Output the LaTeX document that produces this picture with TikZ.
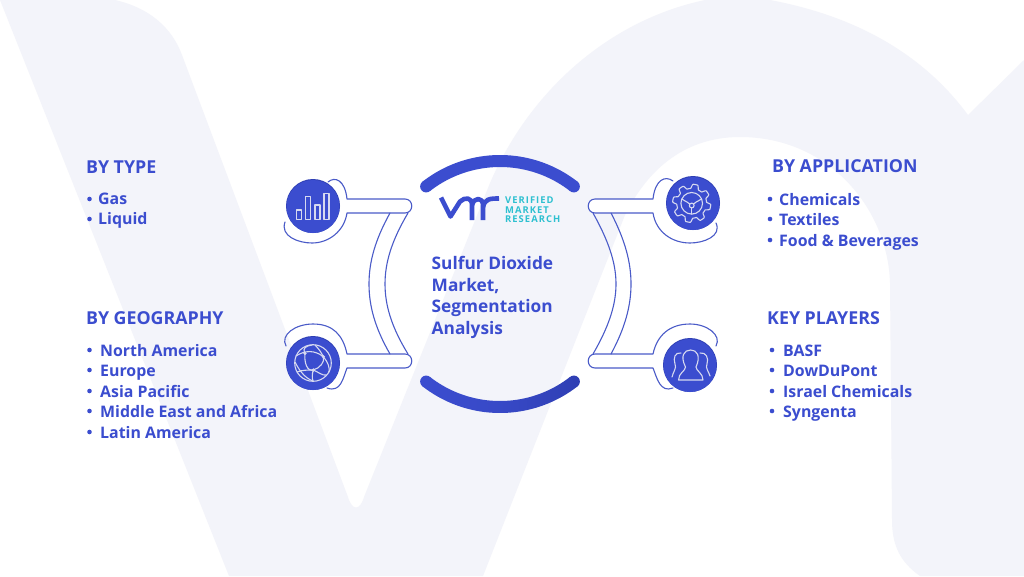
\documentclass[tikz,border=0pt]{standalone}
\usepackage{fontspec}
\setmainfont{Open Sans}
\newfontfamily\logofont[LetterSpace=11]{Open Sans}
\definecolor{wmark}{HTML}{F3F4FA}
\definecolor{vblue}{HTML}{3B4DCF}
\definecolor{vdark}{HTML}{2F3FB4}
\definecolor{vline}{HTML}{4A5BC8}
\definecolor{icon}{HTML}{D6D9F0}
\definecolor{teal}{HTML}{2EC0D0}
\tikzset{
  head/.style={anchor=base west,inner sep=0pt,text=vblue,font=\fontsize{17.8}{20}\selectfont\bfseries},
  item/.style={anchor=base west,inner sep=0pt,text=vblue,font=\fontsize{15.9}{20}\selectfont\bfseries},
  bul/.style={circle,fill=vblue,inner sep=0pt,minimum size=4.6pt},
  title/.style={anchor=base west,inner sep=0pt,text=vblue,font=\fontsize{17.3}{20}\selectfont\bfseries},
  logot/.style={anchor=base west,inner sep=0pt,text=teal,font=\logofont\fontsize{9.4}{10}\selectfont\bfseries},
  wire/.style={draw=vline,line width=1.1pt,line cap=round,line join=round},
  halo/.style={fill=white,draw=none},
  ico/.style={draw=icon,line width=1.1pt,line join=round,line cap=round},
  disc/.style={circle,fill=vblue,inner sep=0pt,minimum size=53pt},
  logostroke/.style={draw=vblue,line width=4.6pt,line join=round}
}
\begin{document}
\begin{tikzpicture}[x=1pt,y=-1pt]
\useasboundingbox (0,0) rectangle (1024,576);
\fill[white] (0,0) rectangle (1024,576);
% watermark
\fill[wmark] (0,0) -- (115,0) .. controls (150,8) and (172,28) .. (182,55)
  -- (348,497) .. controls (352,511) and (360,511) .. (364,497)
  -- (490,183) .. controls (530,90) and (610,20) .. (705,0) -- (770,0)
  .. controls (850,15) and (920,50) .. (968,115) -- (1024,60) -- (1024,576) -- (920,576)
  .. controls (900,562) and (892,545) .. (892,520) -- (890,283)
  .. controls (888,210) and (830,137) .. (740,137)
  .. controls (680,137) and (645,175) .. (625,215) -- (483,576) -- (229,576) -- cycle;
% arcs
\fill[vblue] plot[domain=-38:38,samples=40] ({500+126*sin(\x)},{281-126*cos(\x)}) -- plot[domain=38:-38,samples=40] ({500+114*sin(\x)},{281-114*cos(\x)}) -- cycle;
\coordinate (ta) at ({500-120*sin(38)},{281-120*cos(38)});
\coordinate (tb) at ({500+120*sin(38)},{281-120*cos(38)});
\fill[vblue] (ta) circle (6) (tb) circle (6);
\coordinate (ba) at ({500-120*sin(38)},{287+120*cos(38)});
\coordinate (bb) at ({500+120*sin(38)},{287+120*cos(38)});
\fill[vblue] (ba) circle (6);
\fill[vdark] (bb) circle (6);
\shade[left color=vblue,right color=vdark,middle color=vblue!70!vdark] plot[domain=-38:38,samples=40] ({500+126*sin(\x)},{287+126*cos(\x)}) -- plot[domain=38:-38,samples=40] ({500+114*sin(\x)},{287+114*cos(\x)}) -- cycle;
% connector anchors
\coordinate (lt1) at (347,199); \coordinate (lt2) at (347,213);
\coordinate (lb1) at (347,354); \coordinate (lb2) at (347,368);
\coordinate (rt1) at (653,199); \coordinate (rt2) at (653,213);
\coordinate (rb1) at (653,354); \coordinate (rb2) at (653,368);
% halos
\fill[halo] (lt1) -- (405,199) .. controls (414,199) and (414,213) .. (405,213) -- (lt2) -- (300,213) -- (300,199) -- cycle;
\fill[halo] (lb1) -- (405,354) .. controls (414,354) and (414,368) .. (405,368) -- (lb2) -- (300,368) -- (300,354) -- cycle;
\fill[halo] (rt1) -- (595,199) .. controls (586,199) and (586,213) .. (595,213) -- (rt2) -- (700,213) -- (700,199) -- cycle;
\fill[halo] (rb1) -- (595,354) .. controls (586,354) and (586,368) .. (595,368) -- (rb2) -- (700,368) -- (700,354) -- cycle;
% band curves
\path[wire] (390,213) .. controls (375,240) and (369,262) .. (369,284) .. controls (369,306) and (375,328) .. (390,354);
\path[wire] (408,213) .. controls (392,240) and (385,262) .. (385,284) .. controls (385,306) and (392,328) .. (408,354);
\path[wire] (611,213) .. controls (625,240) and (631,262) .. (631,284) .. controls (631,306) and (625,328) .. (611,354);
\path[wire] (593,213) .. controls (608,240) and (616,262) .. (616,284) .. controls (616,306) and (608,328) .. (593,354);
% pills and collars
\path[wire] (328,182) .. controls (335,176) and (345,180) .. (lt1) -- (405,199) .. controls (414,199) and (414,213) .. (405,213) -- (lt2) .. controls (344,232) and (328,243) .. (312,243) .. controls (298,243) and (280,236) .. (285,222);
\path[wire] (286,346) .. controls (280,335) and (295,324) .. (313,324) .. controls (333,324) and (343,335) .. (lb1) -- (405,354) .. controls (414,354) and (414,368) .. (405,368) -- (lb2) .. controls (343,378) and (341,393) .. (327,388);
\path[wire] (673,181) .. controls (665,175) and (655,180) .. (rt1) -- (595,199) .. controls (586,199) and (586,213) .. (595,213) -- (rt2) .. controls (656,232) and (672,243) .. (690,243) .. controls (704,243) and (722,236) .. (716,223);
\path[wire] (716,346) .. controls (722,335) and (707,324) .. (690,324) .. controls (670,324) and (657,335) .. (rb1) -- (595,354) .. controls (586,354) and (586,368) .. (595,368) -- (rb2) .. controls (657,378) and (660,393) .. (673,388);
% discs
\fill[vdark] (313,206) circle (27);
\fill[vdark] (313,363) circle (27);
\fill[vdark] (693,203) circle (27);
\fill[vdark] (690,365) circle (27);
\node[disc] (d1) at (313,206.5) {};
\node[disc] (d2) at (313,363.5) {};
\node[disc] (d3) at (693,203.5) {};
\node[disc] (d4) at (690,365.5) {};
% bars icon
\path[ico] (296.7,210) rectangle (301.7,219.3);
\path[ico] (305.7,196.7) rectangle (310.7,219.3);
\path[ico] (315,205) rectangle (320,219.3);
\path[ico] (324,193.3) rectangle (329,219.3);
% globe icon
\path[ico] (313,363) circle (18.3);
\path[ico] (296,356) .. controls (305,350) and (315,350) .. (323.3,356.7) .. controls (328,362) and (330,368) .. (329,372);
\path[ico] (305,353.3) .. controls (304,362) and (307,372) .. (313.3,370) .. controls (320,368) and (325,362) .. (323.3,356.7);
\path[ico] (297,372) .. controls (302,370) and (308,370) .. (313.3,370) .. controls (318,372) and (323,376) .. (326,375);
\path[ico] (305,353.3) .. controls (302,348) and (306,346) .. (312,345);
\path[ico] (295,362) .. controls (298,368) and (304,378) .. (313,381);
\path[ico] (315,345) .. controls (320,350) and (322,354) .. (323.3,356.7);
\path[ico] (313.3,370) .. controls (312,374) and (312,378) .. (313,381);
\fill[icon] (305,353.3) circle (1.8) (323.3,356.7) circle (1.8) (313.3,370) circle (1.8);
% gear icon
\path[ico] plot[domain=0:360,samples=161] ({691.7+(17+2.1*max(min(2.2*sin(8*\x),1),-1))*cos(\x)},{203.3+(17+2.1*max(min(2.2*sin(8*\x),1),-1))*sin(\x)}) -- cycle;
\path[ico] (691.7,203.3) circle (10.8);
\path[ico] (691.7,205.5) circle (2.4);
\path[ico] (682,199) .. controls (686,202) and (688,202) .. (689.8,204);
\path[ico] (701.4,199) .. controls (697,202) and (695,202) .. (693.6,204);
\path[ico] (691.7,208) -- (691.7,214);
% people icon
\path[ico] (685.5,367) .. controls (680,356) and (684,350) .. (690.7,350) .. controls (697,350) and (701,356) .. (696,367) .. controls (696,371) and (703,373) .. (703,380) -- (678.5,380) .. controls (678.5,373) and (685.5,371) .. (685.5,367) -- cycle;
\path[ico] (681,353) .. controls (675,352) and (673,358) .. (675,364) .. controls (677,368) and (673,372) .. (672,377);
\path[ico] (700,353) .. controls (706,352) and (709,358) .. (707,364) .. controls (705,368) and (709,372) .. (710,376);
% logo
\path[logostroke] (441,197.5) -- (450.5,216.5) -- (460,201.5) .. controls (465,197) and (472,197) .. (472,205) -- (472,220);
\path[logostroke] (472,205) .. controls (474,197) and (483,197) .. (483,205) -- (483,220);
\path[logostroke] (483,207) .. controls (485,199) and (489,198.5) .. (499,198.5);
\node[logot] (lg1) at (505,203.5) {VERIFIED};
\node[logot] (lg2) at (505,213) {MARKET};
\node[logot] (lg3) at (505,222.5) {RESEARCH};
% title
\node[title] (t1) at (431.5,269) {Sulfur Dioxide};
\node[title] (t2) at (431.5,291) {Market,};
\node[title] (t3) at (431.5,312) {Segmentation};
\node[title] (t4) at (431.5,334) {Analysis};
% left lists
\node[head] (h1) at (86,173) {BY TYPE};
\node[bul] (b11) at (89.5,199) {}; \node[item] (i11) at (98,204.5) {Gas};
\node[bul] (b12) at (89.5,219) {}; \node[item] (i12) at (98,224.5) {Liquid};
\node[head] (h2) at (86,324) {BY GEOGRAPHY};
\foreach \n/\y/\t in {1/350/North America,2/370/Europe,3/391/Asia Pacific,4/411/Middle East and Africa,5/432/Latin America}{
  \node[bul] (b2\n) at (89.5,\y) {};
  \node[item] (i2\n) at (100,\y+6) {\t};
}
\node[head] (h3) at (772,172) {BY APPLICATION};
\foreach \n/\y/\t in {1/199/Chemicals,2/219/Textiles,3/240/Food \& Beverages}{
  \node[bul] (b3\n) at (770,\y) {};
  \node[item] (i3\n) at (779,\y+6) {\t};
}
\node[head] (h4) at (767,324) {KEY PLAYERS};
\foreach \n/\y/\t in {1/350/BASF,2/370/DowDuPont,3/391/Israel Chemicals,4/411/Syngenta}{
  \node[bul] (b4\n) at (772,\y) {};
  \node[item] (i4\n) at (783,\y+6) {\t};
}
\end{tikzpicture}
\end{document}
